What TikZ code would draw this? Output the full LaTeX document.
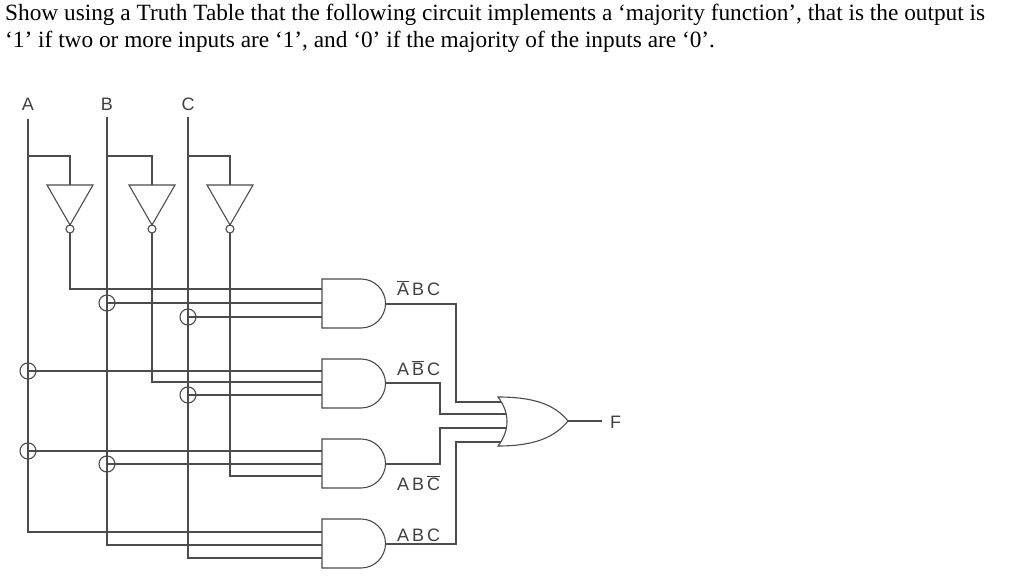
\documentclass[tikz,border=0pt]{standalone}
\usepackage{fontspec}
\setmainfont{Liberation Serif}
\newfontfamily\gatefont{Liberation Sans}
\begin{document}
\begin{tikzpicture}[x=1pt,y=-1pt,
  wire/.style={draw=black!70,line width=1.1pt},
  tapc/.style={draw=black!70,line width=1.1pt,circle,minimum size=16pt,inner sep=0pt},
  glabel/.style={font=\gatefont\fontsize{18}{18}\selectfont,text=black!75,anchor=west,inner sep=0pt}]
\useasboundingbox (0,0) rectangle (1024,585);
\node[anchor=base west,inner sep=0pt,font=\fontsize{23.3}{23.3}\selectfont] (t1) at (5,21) {Show using a Truth Table that the following circuit implements a ‘majority function’, that is the output is};
\node[anchor=base west,inner sep=0pt,font=\fontsize{23.3}{23.3}\selectfont] (t2) at (5,48) {‘1’ if two or more inputs are ‘1’, and ‘0’ if the majority of the inputs are ‘0’.};
% input labels
\node[glabel,anchor=south] (lA) at (28,111) {A};
\node[glabel,anchor=south] (lB) at (107,111) {B};
\node[glabel,anchor=south] (lC) at (188,111) {C};
% inputs
\draw[wire] (28,119) -- (28,532) -- (322,532);
\draw[wire] (107,117) -- (107,545) -- (322,545);
\draw[wire] (188,117) -- (188,558) -- (322,558);
% inverters
\foreach \x/\s/\yo in {28/70/289,107/152/382,188/230/476}{
  \draw[wire] (\x,156) -- (\s,156) -- (\s,185);
  \draw[wire] (\s-23,185) -- (\s+23,185) -- (\s,225) -- cycle;
  \draw[wire] (\s,229) circle (4);
  \draw[wire] (\s,233) -- (\s,\yo) -- (322,\yo);
}
% other inputs
\draw[wire] (107,303) -- (322,303);
\draw[wire] (188,317) -- (322,317);
\draw[wire] (28,371) -- (322,371);
\draw[wire] (188,395) -- (322,395);
\draw[wire] (28,451) -- (322,451);
\draw[wire] (107,464) -- (322,464);
\foreach \p in {(107,303),(188,317),(28,371),(188,395),(28,451),(107,464)}
  \node[tapc] at \p {};
% AND gates
\foreach \t/\b in {279/328,359/408,439/488,519/568}{
  \draw[wire,fill=white] (322,\t) -- (361,\t) arc[start angle=-90,end angle=90,radius=24.5] -- (322,\b) -- cycle;
}
% outputs to OR
\draw[wire] (385,304) -- (456,304) -- (456,402) -- (504,402);
\draw[wire] (385,383) -- (440,383) -- (440,414) -- (507,414);
\draw[wire] (385,464) -- (440,464) -- (440,428) -- (507,428);
\draw[wire] (385,544) -- (456,544) -- (456,442) -- (504,442);
% OR gate
\draw[wire,fill=white] (498,397) .. controls (535,397) and (555,405) .. (568,421)
  .. controls (555,437) and (535,446) .. (498,446)
  .. controls (510,430) and (510,413) .. (498,397) -- cycle;
\draw[wire] (568,421) -- (602,421);
\node[glabel] (F) at (610,422) {F};
% gate labels
\node[glabel] (g1) at (397,288) {$\overline{\mbox{A}}$\,B\,C};
\node[glabel] (g2) at (397,368) {A\,$\overline{\mbox{B}}$\,C};
\node[glabel] (g3) at (397,483) {A\,B\,$\overline{\mbox{C}}$};
\node[glabel] (g4) at (397,535) {A\,B\,C};
\end{tikzpicture}
\end{document}
